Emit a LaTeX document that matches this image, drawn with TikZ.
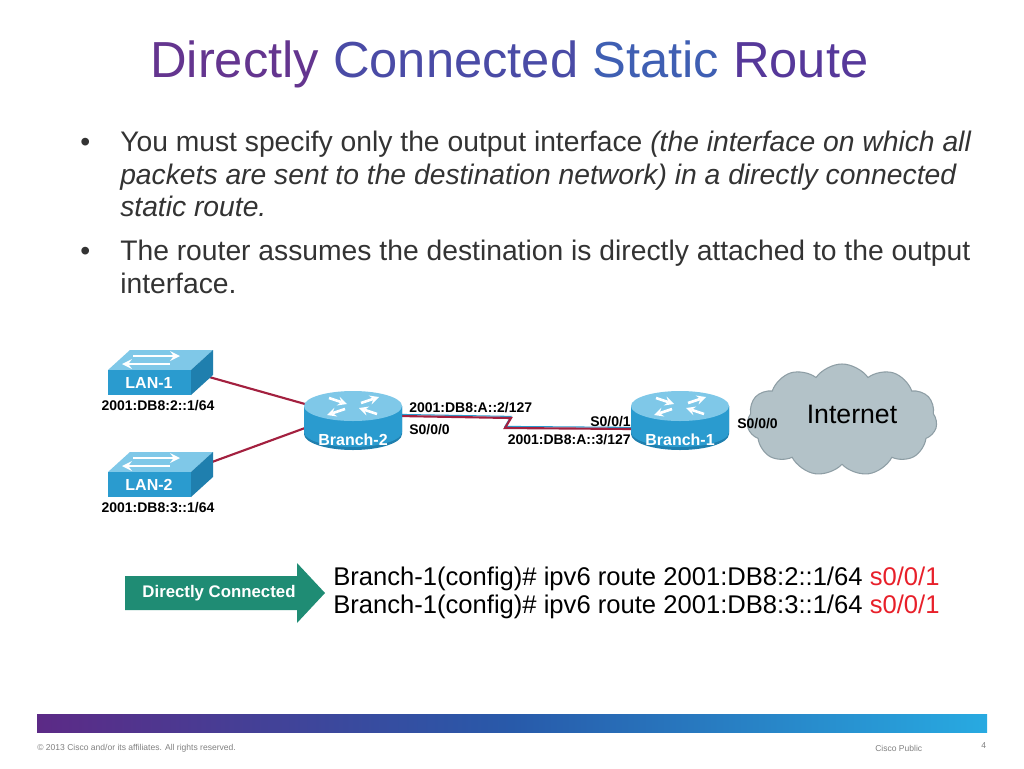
\documentclass[tikz,border=0pt]{standalone}
\usepackage{fontspec}
\setmainfont{Liberation Sans}
\usetikzlibrary{shapes.symbols,shapes.arrows}
\definecolor{txt}{HTML}{333333}
\definecolor{linkred}{HTML}{A3203F}
\definecolor{swtop}{HTML}{7FC8E8}
\definecolor{swfront}{HTML}{2A9BCF}
\definecolor{swside}{HTML}{1F7FAE}
\definecolor{teal}{HTML}{1F8C74}
\definecolor{cloudc}{HTML}{B3C2C8}
\definecolor{cloude}{HTML}{8E9EA5}
\definecolor{cmdred}{HTML}{E8202A}
\tikzset{
  lbl/.style={font=\bfseries\fontsize{10.5}{12}\selectfont, text=black, inner sep=0pt},
  link/.style={draw=linkred, line width=1.6pt},
  wlbl/.style={font=\bfseries\fontsize{12}{14}\selectfont, text=white, inner sep=0pt},
  foot/.style={anchor=west, inner sep=0pt, font=\fontsize{6.4}{8}\selectfont, text=gray},
}
\newcommand{\mkswitch}[3]{% x y name
  \begin{scope}[shift={(#1,#2)}]
    \fill[swtop] (0,0) -- (22,-20) -- (105,-20) -- (83,0) -- cycle;
    \fill[swfront] (0,0) rectangle (83,25);
    \fill[swside] (83,0) -- (105,-20) -- (105,5) -- (83,25) -- cycle;
    \draw[white, line width=2.2pt,-stealth] (25,-14) -- (72,-14);
    \draw[white, line width=2.2pt,-stealth] (62,-6) -- (14,-6);
    \node[wlbl] (#3) at (41,13) {#3};
  \end{scope}}
\newcommand{\mkrouter}[3]{% cx cy name
  \begin{scope}[shift={(#1,#2)}]
    \fill[swside] (-49,0) -- (-49,28) arc[start angle=180,end angle=0,x radius=49,y radius=16] -- (49,0) -- cycle;
    \fill[swfront] (-49,0) -- (-49,26) arc[start angle=180,end angle=0,x radius=49,y radius=15] -- (49,0) -- cycle;
    \fill[swtop] (0,0) ellipse[x radius=49,y radius=15];
    \draw[white,line width=2pt,-stealth] (-24,-8) -- (-6,-2);
    \draw[white,line width=2pt,-stealth] (24,8) -- (6,2);
    \draw[white,line width=2pt,-stealth] (8,-3) -- (26,-9);
    \draw[white,line width=2pt,-stealth] (-8,3) -- (-26,9);
    \node[wlbl] at (0,34) {#3};
  \end{scope}}
\begin{document}
\begin{tikzpicture}[x=0.75pt,y=-0.75pt]
\useasboundingbox (0,0) rectangle (1024,768);
\fill[white] (0,0) rectangle (1024,768);
% title
\node[anchor=base west, inner sep=0pt, font=\fontsize{38}{44}\selectfont] (title) at (150,77)
  {\textcolor[HTML]{64358F}{Directly} \textcolor[HTML]{4A4BA6}{Connected} \textcolor[HTML]{3F5FB3}{Static} \textcolor[HTML]{56389A}{Route}};
% bullets
\begin{scope}[font=\fontsize{21.2}{24}\selectfont, text=txt]
\node[anchor=base west, inner sep=0pt] (b1) at (80,151) {•};
\node[anchor=base west, inner sep=0pt] (l1) at (120,151) {You must specify only the output interface \textit{(the interface on which all}};
\node[anchor=base west, inner sep=0pt] (l2) at (120,184) {\textit{packets are sent to the destination network) in a directly connected}};
\node[anchor=base west, inner sep=0pt] (l3) at (120,216) {\textit{static route.}};
\node[anchor=base west, inner sep=0pt] (b2) at (80,260) {•};
\node[anchor=base west, inner sep=0pt] (l4) at (120,260) {The router assumes the destination is directly attached to the output};
\node[anchor=base west, inner sep=0pt] (l5) at (120,293) {interface.};
\end{scope}
% cloud
\node[cloud, cloud puffs=11, cloud puff arc=110, aspect=1.7, fill=cloudc, draw=cloude, line width=0.8pt, minimum width=190pt*0.75, minimum height=112pt*0.75] (cloud) at (842,420) {};
\node[font=\fontsize{20}{22}\selectfont] (inet) at (852,414) {Internet};
% links
\coordinate (s1) at (195,373);
\coordinate (s2) at (212,462);
\coordinate (r2a) at (305,404);
\coordinate (r2b) at (305,428);
\draw[link] (s1) -- (r2a);
\draw[link] (s2) -- (r2b);
\coordinate (r2s) at (400,416);
\coordinate (z1) at (511,418);
\coordinate (z2) at (505,428);
\coordinate (r1s) at (632,429);
\draw[draw=swfront,line width=0.8pt] ([yshift=1.2]r2s) -- ([yshift=1.2]z1) -- ([yshift=1.2]z2) -- ([yshift=1.2]r1s);
\draw[link,line join=miter] (r2s) -- (z1) -- (z2) -- (r1s);
% devices
\mkswitch{108}{370}{LAN-1}
\mkswitch{108}{472}{LAN-2}
\mkrouter{353}{406}{Branch-2}
\mkrouter{680}{406}{Branch-1}
% labels
\node[lbl] (a1) at (158,406) {2001:DB8:2::1/64};
\node[lbl] (a2) at (158,508) {2001:DB8:3::1/64};
\node[lbl, anchor=west] (a3) at (409,408) {2001:DB8:A::2/127};
\node[lbl, anchor=west] (a4) at (409,430) {S0/0/0};
\node[lbl, anchor=east] (a5) at (631,422) {S0/0/1};
\node[lbl, anchor=east] (a6) at (631,440) {2001:DB8:A::3/127};
\node[lbl, anchor=west] (a7) at (737,424) {S0/0/0};
% arrow box
\fill[teal] (125,576) -- (297,576) -- (297,563) -- (325,593) -- (297,623) -- (297,610) -- (125,610) -- cycle;
\node[font=\bfseries\fontsize{12.6}{14}\selectfont, text=white] (dc) at (219,593) {Directly Connected};
\node[anchor=base west, inner sep=0pt, font=\fontsize{19.2}{22}\selectfont] (c1) at (333,585) {Branch-1(config)\# ipv6 route 2001:DB8:2::1/64 \textcolor{cmdred}{s0/0/1}};
\node[anchor=base west, inner sep=0pt, font=\fontsize{19.2}{22}\selectfont] (c2) at (333,613) {Branch-1(config)\# ipv6 route 2001:DB8:3::1/64 \textcolor{cmdred}{s0/0/1}};
% bottom bar
\shade[left color={rgb,255:red,92;green,42;blue,134}, right color={rgb,255:red,40;green,170;blue,225}, middle color={rgb,255:red,40;green,90;blue,170}] (37,714) rectangle (987,732);
\node[foot] (f1) at (37,748) {© 2013 Cisco and/or its affiliates. All rights reserved.};
\node[foot] (f2) at (875,748) {Cisco Public};
\node[foot] (f3) at (981,746) {4};
\end{tikzpicture}
\end{document}
